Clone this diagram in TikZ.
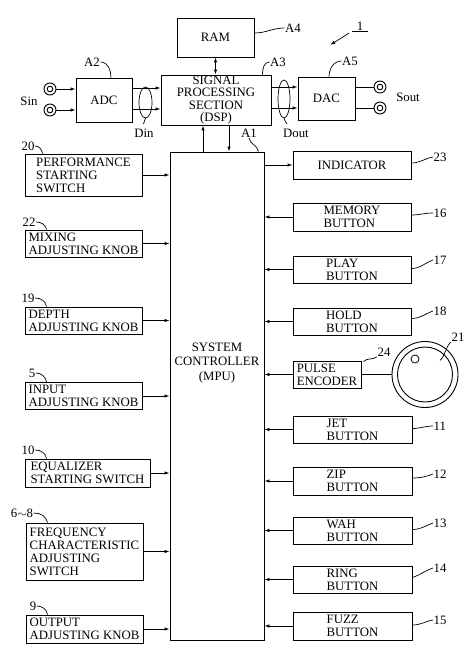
\documentclass[tikz,border=0pt]{standalone}
\usepackage{fontspec}
\setmainfont{Liberation Serif}
\usetikzlibrary{arrows.meta,calc}
\begin{document}
\begin{tikzpicture}[x=1pt,y=-1pt,
  every node/.style={font=\fontsize{12.8}{13}\selectfont},
  bx/.style={draw, line width=0.9pt, inner sep=0pt, align=left},
  ln/.style={line width=0.9pt},
  arr/.style={line width=0.9pt, -{Latex[length=5pt,width=3.5pt]}},
  lead/.style={line width=0.7pt},
  lab/.style={inner sep=0.5pt},
  term/.style={circle, draw, line width=0.9pt, minimum size=12pt, inner sep=0pt,
    path picture={\draw[line width=0.9pt] (path picture bounding box.center) circle (2.8pt);}}
]
\useasboundingbox (0,0) rectangle (474,652);

% ---------- top row ----------
\node[bx, minimum width=77pt, minimum height=39pt] (ram) at (215.5,37.5) {RAM};
\node[bx, minimum width=56pt, minimum height=44pt] (adc) at (104,100) {ADC};
\node[bx, minimum width=110pt, minimum height=50pt, align=center, font=\fontsize{12.8}{12.4}\selectfont] (dsp) at (216,100) {SIGNAL\\PROCESSING\\SECTION\\(DSP)};
\node[bx, minimum width=57pt, minimum height=43pt] (dac) at (326.5,98.5) {DAC};

\node[term] (sinA) at (50,89) {};
\node[term] (sinB) at (50,110) {};
\node[term] (soutA) at (380,87) {};
\node[term] (soutB) at (380,108) {};
\node[lab] (lsin) at (29,101) {Sin};
\node[lab] (lsout) at (408,97) {Sout};

\draw[arr] (sinA.east) -- (sinA.east -| adc.west);
\draw[arr] (sinB.east) -- (sinB.east -| adc.west);
\draw[arr] ([yshift=12pt]adc.east) -- ([yshift=12pt]adc.east -| dsp.west);
\draw[arr] ([yshift=-9pt]adc.east) -- ([yshift=-9pt]adc.east -| dsp.west);
\draw[arr] ([yshift=13pt]dsp.east) -- ([yshift=13pt]dsp.east -| dac.west);
\draw[arr] ([yshift=-8pt]dsp.east) -- ([yshift=-8pt]dsp.east -| dac.west);
\draw[ln] (soutA.west -| dac.east) -- (soutA.west);
\draw[ln] (soutB.west -| dac.east) -- (soutB.west);
\draw[line width=0.9pt, {Latex[length=5pt,width=3.5pt]}-{Latex[length=5pt,width=3.5pt]}] (ram.south) -- (ram.south |- dsp.north);

% bundle ellipses
\draw[lead] (145.5,102.5) ellipse [x radius=6.5, y radius=15.5];
\draw[lead] (145.5,118) to[out=-100,in=80] (143.5,124);
\node[lab] (ldin) at (144,133) {Din};
\draw[lead] (284,99) ellipse [x radius=6, y radius=19];
\draw[lead] (284,118) to[out=-80,in=120] (287,124);
\node[lab] (ldout) at (296,133) {Dout};

% reference labels at top
\node[lab] (lA4) at (293,28) {A4};
\draw[lead] ([yshift=4.5pt]ram.east) to[out=0,in=180] (lA4.west);
\node[lab, minimum width=15pt] (l1) at (360,26) {1};
\draw[lead] (l1.south west) -- (l1.south east);
\draw[line width=0.7pt, -{Latex[length=5pt,width=3.5pt]}] ([xshift=-3pt,yshift=-2pt]l1.south west) -- ++(-19,12);
\node[lab] (lA2) at (92,62) {A2};
\draw[lead] (lA2.east) to[out=0,in=90] ([xshift=7pt]adc.north);
\node[lab] (lA3) at (278,62) {A3};
\draw[lead] (lA3.west) to[out=180,in=90] ([xshift=-9pt]dsp.north east);
\node[lab] (lA5) at (350,61) {A5};
\draw[lead] (lA5.west) to[out=180,in=90] ([xshift=2.5pt]dac.north);

% ---------- system controller ----------
\node[bx, minimum width=94pt, minimum height=488pt] (mpu) at (217,396) {};
\node[align=center, inner sep=0pt, font=\fontsize{12.8}{14.5}\selectfont] (mputxt) at (217,363) {SYSTEM\\CONTROLLER\\(MPU)};
\node[lab] (lA1) at (249,133) {A1};
\draw[lead] (lA1.south) to[out=-80,in=100] ([xshift=-6pt]mpu.north east);

\draw[arr] ([xshift=-13pt]dsp.south |- mpu.north) -- ([xshift=-13pt]dsp.south);
\draw[arr] ([xshift=13pt]dsp.south) -- ([xshift=13pt]dsp.south |- mpu.north);

% ---------- left column ----------
\node[bx, minimum width=117pt, minimum height=42pt] (perf) at (83.5,175) {PERFORMANCE\\STARTING\\SWITCH};
\node[bx, minimum width=117pt, minimum height=27pt] (mix) at (83.5,243.5) {MIXING\\ADJUSTING KNOB};
\node[bx, minimum width=117pt, minimum height=27pt] (depth) at (83.5,320.5) {DEPTH\\ADJUSTING KNOB};
\node[bx, minimum width=117pt, minimum height=27pt] (inp) at (83.5,396) {INPUT\\ADJUSTING KNOB};
\node[bx, minimum width=125pt, minimum height=28pt] (equ) at (87.5,473) {EQUALIZER\\STARTING SWITCH};
\node[bx, minimum width=117pt, minimum height=57pt] (freq) at (84.5,551.5) {FREQUENCY\\CHARACTERISTIC\\ADJUSTING\\SWITCH};
\node[bx, minimum width=117pt, minimum height=28pt] (outk) at (84.5,629) {OUTPUT\\ADJUSTING KNOB};

\foreach \b in {perf,mix,depth,inp,equ,freq,outk}
  \draw[arr] (\b.east) -- (\b.east -| mpu.west);

\node[lab] (l20) at (28,146) {20};
\draw[lead] (l20.east) to[out=0,in=100] ([xshift=18pt]perf.north west);
\node[lab] (l22) at (29,222) {22};
\draw[lead] (l22.east) to[out=0,in=100] ([xshift=22pt]mix.north west);
\node[lab] (l19) at (28,298) {19};
\draw[lead] (l19.east) to[out=0,in=100] ([xshift=22pt]depth.north west);
\node[lab] (l5) at (32,373) {5};
\draw[lead] (l5.east) to[out=0,in=100] ([xshift=22pt]inp.north west);
\node[lab] (l10) at (28,450) {10};
\draw[lead] (l10.east) to[out=0,in=100] ([xshift=22pt]equ.north west);
\node[lab] (l68) at (22,513) {6$\sim$8};
\draw[lead] (l68.east) to[out=0,in=100] ([xshift=22pt]freq.north west);
\node[lab] (l9) at (33,606) {9};
\draw[lead] (l9.east) to[out=0,in=100] ([xshift=22pt]outk.north west);

% ---------- right column ----------
\node[bx, minimum width=118pt, minimum height=28pt] (ind) at (352,165) {INDICATOR};
\node[bx, minimum width=118pt, minimum height=28pt] (mem) at (352,217) {MEMORY\\BUTTON};
\node[bx, minimum width=118pt, minimum height=27pt] (play) at (352,269.5) {PLAY\\BUTTON};
\node[bx, minimum width=118pt, minimum height=27pt] (hold) at (352,321.5) {HOLD\\BUTTON};
\node[bx, minimum width=68pt, minimum height=27pt] (pulse) at (327,374.5) {PULSE\\ENCODER};
\node[bx, minimum width=119pt, minimum height=27pt] (jet) at (352.5,429.5) {JET\\BUTTON};
\node[bx, minimum width=119pt, minimum height=28pt] (zip) at (352.5,481) {ZIP\\BUTTON};
\node[bx, minimum width=119pt, minimum height=27pt] (wah) at (352.5,530.5) {WAH\\BUTTON};
\node[bx, minimum width=119pt, minimum height=27pt] (ring) at (352.5,579.5) {RING\\BUTTON};
\node[bx, minimum width=119pt, minimum height=28pt] (fuzz) at (352.5,626) {FUZZ\\BUTTON};

\draw[arr] (ind.west -| mpu.east) -- (ind.west);
\foreach \b in {mem,play,hold,pulse,jet,zip,wah,ring,fuzz}
  \draw[arr] (\b.west) -- (\b.west -| mpu.east);

% knob
\node[circle, draw, line width=0.9pt, minimum size=66pt, inner sep=0pt] (knob) at (425,374.5) {};
\node[circle, draw, line width=0.9pt, minimum size=55pt, inner sep=0pt] (knobin) at (425,374.5) {};
\node[circle, draw, line width=0.8pt, minimum size=8pt, inner sep=0pt] (dot) at (415,359) {};
\draw[ln] (pulse.east) -- (knob.west);

\node[lab] (l24) at (384,352) {24};
\draw[lead] ([xshift=2pt,yshift=-1pt]pulse.north east) to[out=45,in=215] (l24.south west);
\node[lab] (l21) at (458,337) {21};
\draw[lead] (l21.south west) to[out=225,in=45] ($(knob.center)+(15,-14)$);

\node[lab, anchor=west] (l23) at (433,157) {23};
\draw[lead] ([yshift=2pt]ind.east) to[out=0,in=190] (l23.west);
\node[lab, anchor=west] (l16) at (433,213) {16};
\draw[lead] ([yshift=2pt]mem.east) to[out=0,in=180] (l16.west);
\node[lab, anchor=west] (l17) at (433,260) {17};
\draw[lead] ([yshift=1pt]play.east) to[out=0,in=200] (l17.west);
\node[lab, anchor=west] (l18) at (433,311) {18};
\draw[lead] ([yshift=3pt]hold.east) to[out=0,in=200] (l18.west);
\node[lab, anchor=west] (l11) at (433,426) {11};
\draw[lead] ([yshift=1pt]jet.east) to[out=0,in=180] (l11.west);
\node[lab, anchor=west] (l12) at (433,474) {12};
\draw[lead] ([yshift=3pt]zip.east) to[out=0,in=200] (l12.west);
\node[lab, anchor=west] (l13) at (433,523) {13};
\draw[lead] ([yshift=1pt]wah.east) to[out=0,in=200] (l13.west);
\node[lab, anchor=west] (l14) at (433,568) {14};
\draw[lead] ([yshift=2pt]ring.east) to[out=20,in=200] (l14.west);
\node[lab, anchor=west] (l15) at (433,620) {15};
\draw[lead] ([yshift=1pt]fuzz.east) to[out=0,in=190] (l15.west);
\end{tikzpicture}
\end{document}
